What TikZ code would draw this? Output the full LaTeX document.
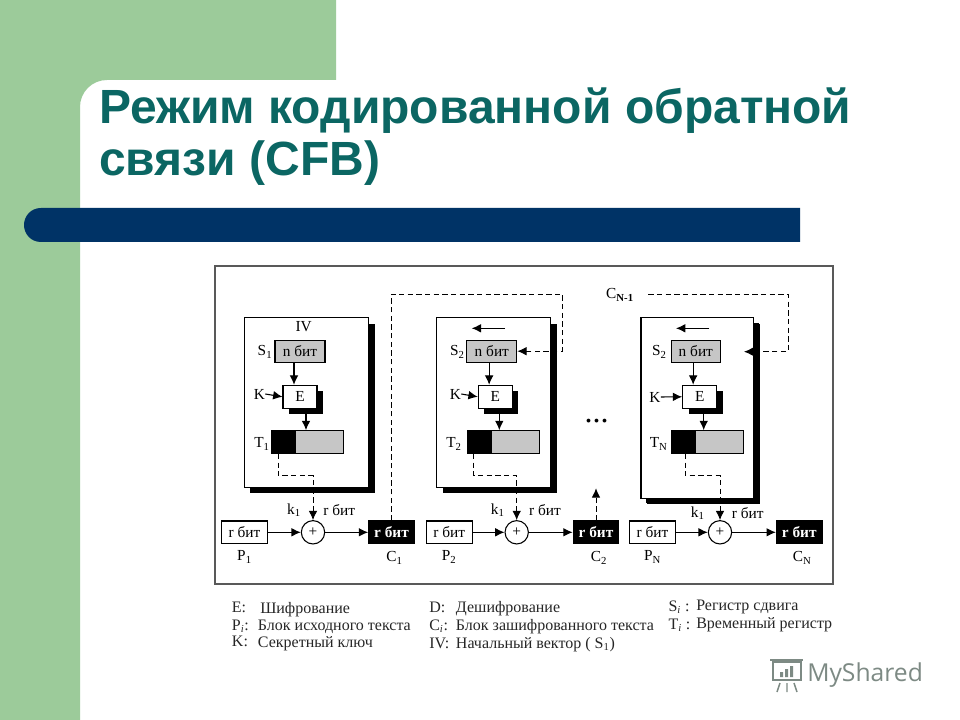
\documentclass[tikz,border=0pt]{standalone}
\usepackage{fontspec}
\setmainfont{Liberation Serif}
\newfontfamily\titlefont{Liberation Sans}
\newfontfamily\logofont{Open Sans}
\usetikzlibrary{arrows.meta,shadows}
\definecolor{slidegreen}{HTML}{9CCB9A}
\definecolor{slidenavy}{HTML}{003366}
\definecolor{titleteal}{HTML}{0B6663}
\definecolor{regray}{HTML}{C6C6C6}
\definecolor{logogray}{HTML}{7D8A84}
\newcommand{\sub}[1]{\textsubscript{#1}}
\tikzset{
  every node/.style={font=\fontsize{11.5}{12}\selectfont,inner sep=0pt},
  sline/.style={-{Latex[length=7pt,width=6.5pt]},line width=0.8pt},
  dline/.style={sline,line width=0.7pt,dash pattern=on 4pt off 2.5pt},
  panel/.style={draw,fill=white,line width=0.8pt,drop shadow={shadow xshift=4.5pt,shadow yshift=-4.5pt,fill=black,opacity=1}},
  nbit/.style={draw,fill=regray,line width=0.8pt,minimum width=37.5pt,minimum height=16.5pt},
  ebox/.style={draw,fill=white,line width=0.8pt,minimum width=25.5pt,minimum height=17.25pt,drop shadow={shadow xshift=4.5pt,shadow yshift=-4.5pt,fill=black,opacity=1}},
  tblack/.style={draw,fill=black,line width=0.8pt,minimum width=17.25pt,minimum height=17pt},
  tgray/.style={draw,fill=regray,line width=0.8pt,minimum width=36pt,minimum height=17pt},
  rbit/.style={draw,fill=white,line width=0.8pt,minimum width=34.25pt,minimum height=17pt},
  cbit/.style={draw,fill=black,text=white,line width=0.8pt,minimum width=34.25pt,minimum height=17pt,font=\fontsize{11.5}{12}\selectfont\bfseries},
  plusn/.style={draw,circle,fill=white,line width=0.8pt,minimum size=17.5pt},
  lgd/.style={anchor=base west,text=black!85,font=\fontsize{12}{13}\selectfont},
}
\begin{document}
\begin{tikzpicture}[x=0.75pt,y=-0.75pt]
\useasboundingbox (0,0) rectangle (960,720);
\fill[white] (0,0) rectangle (960,720);
% fond de la diapositive
\fill[slidegreen] (0,0) -- (336,0) -- (336,80) -- (107,80) .. controls (92,80) and (80,92) .. (80,107) -- (80,720) -- (0,720) -- cycle;
\fill[slidenavy] (800,208) -- (41,208) .. controls (31,208) and (24,216) .. (24,225) .. controls (24,234) and (31,242) .. (41,242) -- (800,242) -- cycle;
\node[anchor=north west,align=left,text=titleteal,font=\fontsize{36}{39}\selectfont\titlefont\bfseries] (titre) at (99,87.5) {Режим кодированной обратной\\связи (CFB)};
% cadre
\node[draw=black!65,fill=white,line width=1pt,minimum width=463.5pt,minimum height=238.5pt] (cadre) at (524,425) {};

% bloc 1
\node[panel,minimum width=93.5pt,minimum height=127.2pt] (bloc1) at (306.6,402.5) {};
\node (iv) at (303.7,327) {IV};
\node[nbit] (s1) at (300,351.2) {n бит};
\node (s1l) at (265,352) {S\sub{1}};
\node[ebox] (e1) at (300,396.8) {E};
\node (k1l) at (259.5,394) {K};
\node[tblack] (t1b) at (283.3,442) {};
\node[tgray,anchor=west] (t1g) at (t1b.east) {};
\node (t1l) at (262,444) {T\sub{1}};
\draw[sline] ([xshift=-4.5pt]s1.south) -- ([xshift=-4.5pt]e1.north);
\draw[sline] (k1l.east) -- (e1.west);
\draw[sline] ([xshift=4.5pt]e1.south) -- ([xshift=4.5pt]e1.south |- t1g.north);

% bloc 2
\node[panel,minimum width=85.7pt,minimum height=127.2pt] (bloc2) at (493.8,402.5) {};
\node[nbit] (s2) at (491.8,351.2) {n бит};
\node (s2l) at (457.3,352) {S\sub{2}};
\node[ebox] (e2) at (495.3,396.8) {E};
\node (k2l) at (455.5,394) {K};
\node[tblack] (t2b) at (478.7,442) {};
\node[tgray,anchor=west] (t2g) at (t2b.east) {};
\node (t2l) at (454,444) {T\sub{2}};
\coordinate (d2a) at (505,328.3);
\coordinate (d2b) at (471.7,328.3);
\draw[sline] (d2a) -- (d2b);
\draw[sline] ([xshift=-2pt]s2.south) -- ([xshift=-2pt]s2.south |- e2.north);
\draw[sline] (k2l.east) -- (e2.west);
\draw[sline] ([xshift=3pt]e2.south) -- ([xshift=3pt]e2.south |- t2g.north);

% ... bloc N
\node[font=\fontsize{24}{24}\selectfont] (dots) at (596.5,421) {...};
\node[panel,minimum width=84.5pt,minimum height=135.5pt,drop shadow={shadow xshift=3.75pt,shadow yshift=-3.75pt,fill=black,opacity=1}] (blocn) at (697.3,408) {};
\node[nbit,minimum width=36.75pt] (sn) at (695.8,351.2) {n бит};
\node (snl) at (659.3,352) {S\sub{2}};
\node[ebox] (en) at (699.7,396.8) {E};
\node (knl) at (655,397) {K};
\node[tblack] (tnb) at (682.8,442) {};
\node[tgray,anchor=west] (tng) at (tnb.east) {};
\node (tnl) at (658.7,444) {T\sub{N}};
\coordinate (dna) at (709.3,328.3);
\coordinate (dnb) at (676,328.3);
\draw[sline] (dna) -- (dnb);
\draw[sline] ([xshift=-2pt]sn.south) -- ([xshift=-2pt]sn.south |- en.north);
\draw[sline] (knl.east) -- (en.west);
\draw[sline] ([xshift=3pt]en.south) -- ([xshift=3pt]en.south |- tng.north);

% ligne du bas
\foreach \nm/\xp/\xs/\xc/\xk/\xr/\yk/\idx in {1/244.5/313/391.5/294/339.3/510/1, 2/449.2/516.7/596/497.7/545/510/2, n/652.5/720/799.2/697.7/747.7/513/N}{
  \node[rbit] (p\nm) at (\xp,532.3) {r бит};
  \node[plusn] (o\nm) at (\xs,532.3) {+};
  \node[cbit] (c\nm) at (\xc,532.3) {r бит};
  \node (kk\nm) at (\xk,\yk) {k\sub{1}};
  \node (rr\nm) at (\xr,\yk) {r бит};
  \node (pl\nm) at (\xp,557) {P\sub{\idx}};
  \node (cl\nm) at (\xc+3,558) {C\sub{\idx}};
  \draw[sline] (p\nm.east) -- (o\nm.west);
  \draw[sline] (o\nm.east) -- (c\nm.west);
}

% traits pointilles
\coordinate (b1) at (313,475.7);
\coordinate (b2) at (516.7,475.7);
\coordinate (bn) at (720,475.7);
\draw[dline] ([xshift=-3.75pt]t1b.south) |- (b1) -- (o1.north);
\draw[dline] ([xshift=-3.75pt]t2b.south) |- (b2) -- (o2.north);
\draw[dline] ([xshift=2pt]tnb.south) |- (bn) -- (on.north);
\coordinate (f1) at (562.3,294);
\draw[dline] (c1.north) |- (f1) |- (s2.east);
\coordinate (c2up) at (596,488.3);
\draw[dline] (c2.north) -- (c2up);
\node (cnm) at (620,295) {C\sub{\textbf{N-1}}};
\coordinate (fna) at (648.3,294);
\coordinate (fnb) at (788,294);
\coordinate (fnc) at (744,351.7);
\draw[dline] (fna) -- (fnb) |- (fnc);

% legende
\foreach \xx/\yy/\txt [count=\i] in {
  231.7/612/E:, 260/613/Шифрование,
  231.7/630/P\sub{\textit{i}}:, 257.7/630/Блок исходного текста,
  231.7/646/K:, 257.7/647/Секретный ключ,
  429/612/D:, 455.7/612/Дешифрование,
  429/630/C\sub{\textit{i}}:, 455.7/630/Блок зашифрованного текста,
  429/648/IV:, 455.7/648/Начальный вектор ( S\sub{1}),
  668.3/611/S\sub{\textit{i}} :, 696/610/Регистр сдвига,
  668.3/629/T\sub{\textit{i}} :, 696/628/Временный регистр}{
  \node[lgd] (lg\i) at (\xx,\yy) {\txt};
}

% logo
\begin{scope}[logogray,line width=1.1pt]
\draw (773,662) rectangle (801,680);
\draw (770,660) -- (803,660);
\fill (780,672) rectangle (783,677) (785,669) rectangle (788,677) (790,666) rectangle (793,677);
\draw (780,683) -- (777,692) (787,683) -- (787,692) (794,683) -- (797,692);
\end{scope}
\node[anchor=west,text=logogray,font=\fontsize{18.5}{22}\selectfont\logofont] (logo) at (807,675) {MyShared};
\end{tikzpicture}
\end{document}
